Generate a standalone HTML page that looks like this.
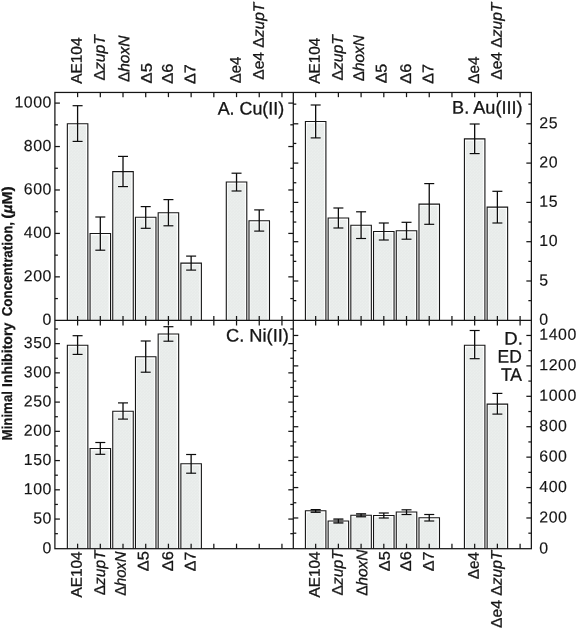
<!DOCTYPE html>
<html><head><meta charset="utf-8"><title>Minimal Inhibitory Concentration</title>
<style>
html,body{margin:0;padding:0;background:#fff;}
svg{display:block;}
text{font-family:"Liberation Sans",sans-serif;fill:#151515;stroke:#151515;stroke-width:0.3px;text-rendering:geometricPrecision;}
.tl{font-size:15.9px;letter-spacing:0.55px;stroke-width:0.15px;}
.pl{font-size:18px;stroke-width:0.3px;}
.cl{font-size:15.5px;}
.yt{font-size:14.3px;font-weight:bold;stroke-width:0.25px;}
.it{font-style:italic;}
</style></head>
<body>
<svg width="577" height="629" viewBox="0 0 577 629">
<defs><pattern id="stip" width="3" height="3" patternUnits="userSpaceOnUse"><rect width="3" height="3" fill="#e7ebe9"/><circle cx="0.75" cy="0.75" r="0.75" fill="#edf0ef"/><circle cx="2.25" cy="2.25" r="0.75" fill="#edf0ef"/></pattern></defs>
<rect x="0" y="0" width="577" height="629" fill="#ffffff"/>
<path d="M67.35 320.30V123.70H87.85V320.30" fill="#fcfdfd" stroke="none"/>
<path d="M68.75 320.30V125.70H85.90V320.30Z" fill="url(#stip)" stroke="none"/>
<line x1="77.60" y1="125.70" x2="77.60" y2="141.40" stroke="#f5f7f6" stroke-width="3.2"/>
<line x1="72.10" y1="141.40" x2="83.10" y2="141.40" stroke="#f1f4f3" stroke-width="2.6"/>
<path d="M67.35 320.30V123.70H87.85V320.30" fill="none" stroke="#151515" stroke-width="1.1"/>
<line x1="77.60" y1="105.70" x2="77.60" y2="141.40" stroke="#0c0c0c" stroke-width="1.3"/>
<line x1="72.60" y1="105.70" x2="82.60" y2="105.70" stroke="#0c0c0c" stroke-width="1.2"/>
<line x1="72.60" y1="141.40" x2="82.60" y2="141.40" stroke="#0c0c0c" stroke-width="1.2"/>
<path d="M90.06 320.30V233.50H110.56V320.30" fill="#fcfdfd" stroke="none"/>
<path d="M91.46 320.30V235.50H108.61V320.30Z" fill="url(#stip)" stroke="none"/>
<line x1="100.31" y1="235.50" x2="100.31" y2="250.20" stroke="#f5f7f6" stroke-width="3.2"/>
<line x1="94.81" y1="250.20" x2="105.81" y2="250.20" stroke="#f1f4f3" stroke-width="2.6"/>
<path d="M90.06 320.30V233.50H110.56V320.30" fill="none" stroke="#151515" stroke-width="1.1"/>
<line x1="100.31" y1="217.00" x2="100.31" y2="250.20" stroke="#0c0c0c" stroke-width="1.3"/>
<line x1="95.31" y1="217.00" x2="105.31" y2="217.00" stroke="#0c0c0c" stroke-width="1.2"/>
<line x1="95.31" y1="250.20" x2="105.31" y2="250.20" stroke="#0c0c0c" stroke-width="1.2"/>
<path d="M112.76 320.30V171.60H133.26V320.30" fill="#fcfdfd" stroke="none"/>
<path d="M114.16 320.30V173.60H131.31V320.30Z" fill="url(#stip)" stroke="none"/>
<line x1="123.01" y1="173.60" x2="123.01" y2="186.60" stroke="#f5f7f6" stroke-width="3.2"/>
<line x1="117.51" y1="186.60" x2="128.51" y2="186.60" stroke="#f1f4f3" stroke-width="2.6"/>
<path d="M112.76 320.30V171.60H133.26V320.30" fill="none" stroke="#151515" stroke-width="1.1"/>
<line x1="123.01" y1="156.40" x2="123.01" y2="186.60" stroke="#0c0c0c" stroke-width="1.3"/>
<line x1="118.01" y1="156.40" x2="128.01" y2="156.40" stroke="#0c0c0c" stroke-width="1.2"/>
<line x1="118.01" y1="186.60" x2="128.01" y2="186.60" stroke="#0c0c0c" stroke-width="1.2"/>
<path d="M135.47 320.30V217.30H155.97V320.30" fill="#fcfdfd" stroke="none"/>
<path d="M136.87 320.30V219.30H154.02V320.30Z" fill="url(#stip)" stroke="none"/>
<line x1="145.72" y1="219.30" x2="145.72" y2="228.30" stroke="#f5f7f6" stroke-width="3.2"/>
<line x1="140.22" y1="228.30" x2="151.22" y2="228.30" stroke="#f1f4f3" stroke-width="2.6"/>
<path d="M135.47 320.30V217.30H155.97V320.30" fill="none" stroke="#151515" stroke-width="1.1"/>
<line x1="145.72" y1="206.60" x2="145.72" y2="228.30" stroke="#0c0c0c" stroke-width="1.3"/>
<line x1="140.72" y1="206.60" x2="150.72" y2="206.60" stroke="#0c0c0c" stroke-width="1.2"/>
<line x1="140.72" y1="228.30" x2="150.72" y2="228.30" stroke="#0c0c0c" stroke-width="1.2"/>
<path d="M158.17 320.30V212.70H178.67V320.30" fill="#fcfdfd" stroke="none"/>
<path d="M159.57 320.30V214.70H176.72V320.30Z" fill="url(#stip)" stroke="none"/>
<line x1="168.42" y1="214.70" x2="168.42" y2="225.80" stroke="#f5f7f6" stroke-width="3.2"/>
<line x1="162.92" y1="225.80" x2="173.92" y2="225.80" stroke="#f1f4f3" stroke-width="2.6"/>
<path d="M158.17 320.30V212.70H178.67V320.30" fill="none" stroke="#151515" stroke-width="1.1"/>
<line x1="168.42" y1="199.60" x2="168.42" y2="225.80" stroke="#0c0c0c" stroke-width="1.3"/>
<line x1="163.42" y1="199.60" x2="173.42" y2="199.60" stroke="#0c0c0c" stroke-width="1.2"/>
<line x1="163.42" y1="225.80" x2="173.42" y2="225.80" stroke="#0c0c0c" stroke-width="1.2"/>
<path d="M180.88 320.30V263.10H201.38V320.30" fill="#fcfdfd" stroke="none"/>
<path d="M182.28 320.30V265.10H199.43V320.30Z" fill="url(#stip)" stroke="none"/>
<line x1="191.13" y1="265.10" x2="191.13" y2="270.10" stroke="#f5f7f6" stroke-width="3.2"/>
<line x1="185.63" y1="270.10" x2="196.63" y2="270.10" stroke="#f1f4f3" stroke-width="2.6"/>
<path d="M180.88 320.30V263.10H201.38V320.30" fill="none" stroke="#151515" stroke-width="1.1"/>
<line x1="191.13" y1="256.10" x2="191.13" y2="270.10" stroke="#0c0c0c" stroke-width="1.3"/>
<line x1="186.13" y1="256.10" x2="196.13" y2="256.10" stroke="#0c0c0c" stroke-width="1.2"/>
<line x1="186.13" y1="270.10" x2="196.13" y2="270.10" stroke="#0c0c0c" stroke-width="1.2"/>
<path d="M226.29 320.30V182.00H246.79V320.30" fill="#fcfdfd" stroke="none"/>
<path d="M227.69 320.30V184.00H244.84V320.30Z" fill="url(#stip)" stroke="none"/>
<line x1="236.54" y1="184.00" x2="236.54" y2="191.00" stroke="#f5f7f6" stroke-width="3.2"/>
<line x1="231.04" y1="191.00" x2="242.04" y2="191.00" stroke="#f1f4f3" stroke-width="2.6"/>
<path d="M226.29 320.30V182.00H246.79V320.30" fill="none" stroke="#151515" stroke-width="1.1"/>
<line x1="236.54" y1="173.20" x2="236.54" y2="191.00" stroke="#0c0c0c" stroke-width="1.3"/>
<line x1="231.54" y1="173.20" x2="241.54" y2="173.20" stroke="#0c0c0c" stroke-width="1.2"/>
<line x1="231.54" y1="191.00" x2="241.54" y2="191.00" stroke="#0c0c0c" stroke-width="1.2"/>
<path d="M248.99 320.30V220.70H269.49V320.30" fill="#fcfdfd" stroke="none"/>
<path d="M250.39 320.30V222.70H267.54V320.30Z" fill="url(#stip)" stroke="none"/>
<line x1="259.24" y1="222.70" x2="259.24" y2="231.10" stroke="#f5f7f6" stroke-width="3.2"/>
<line x1="253.74" y1="231.10" x2="264.74" y2="231.10" stroke="#f1f4f3" stroke-width="2.6"/>
<path d="M248.99 320.30V220.70H269.49V320.30" fill="none" stroke="#151515" stroke-width="1.1"/>
<line x1="259.24" y1="209.90" x2="259.24" y2="231.10" stroke="#0c0c0c" stroke-width="1.3"/>
<line x1="254.24" y1="209.90" x2="264.24" y2="209.90" stroke="#0c0c0c" stroke-width="1.2"/>
<line x1="254.24" y1="231.10" x2="264.24" y2="231.10" stroke="#0c0c0c" stroke-width="1.2"/>
<path d="M305.41 320.30V121.50H325.91V320.30" fill="#fcfdfd" stroke="none"/>
<path d="M306.81 320.30V123.50H323.96V320.30Z" fill="url(#stip)" stroke="none"/>
<line x1="315.66" y1="123.50" x2="315.66" y2="137.90" stroke="#f5f7f6" stroke-width="3.2"/>
<line x1="310.16" y1="137.90" x2="321.16" y2="137.90" stroke="#f1f4f3" stroke-width="2.6"/>
<path d="M305.41 320.30V121.50H325.91V320.30" fill="none" stroke="#151515" stroke-width="1.1"/>
<line x1="315.66" y1="105.00" x2="315.66" y2="137.90" stroke="#0c0c0c" stroke-width="1.3"/>
<line x1="310.66" y1="105.00" x2="320.66" y2="105.00" stroke="#0c0c0c" stroke-width="1.2"/>
<line x1="310.66" y1="137.90" x2="320.66" y2="137.90" stroke="#0c0c0c" stroke-width="1.2"/>
<path d="M328.13 320.30V218.00H348.63V320.30" fill="#fcfdfd" stroke="none"/>
<path d="M329.53 320.30V220.00H346.68V320.30Z" fill="url(#stip)" stroke="none"/>
<line x1="338.38" y1="220.00" x2="338.38" y2="228.00" stroke="#f5f7f6" stroke-width="3.2"/>
<line x1="332.88" y1="228.00" x2="343.88" y2="228.00" stroke="#f1f4f3" stroke-width="2.6"/>
<path d="M328.13 320.30V218.00H348.63V320.30" fill="none" stroke="#151515" stroke-width="1.1"/>
<line x1="338.38" y1="208.00" x2="338.38" y2="228.00" stroke="#0c0c0c" stroke-width="1.3"/>
<line x1="333.38" y1="208.00" x2="343.38" y2="208.00" stroke="#0c0c0c" stroke-width="1.2"/>
<line x1="333.38" y1="228.00" x2="343.38" y2="228.00" stroke="#0c0c0c" stroke-width="1.2"/>
<path d="M350.84 320.30V225.30H371.34V320.30" fill="#fcfdfd" stroke="none"/>
<path d="M352.24 320.30V227.30H369.39V320.30Z" fill="url(#stip)" stroke="none"/>
<line x1="361.09" y1="227.30" x2="361.09" y2="238.50" stroke="#f5f7f6" stroke-width="3.2"/>
<line x1="355.59" y1="238.50" x2="366.59" y2="238.50" stroke="#f1f4f3" stroke-width="2.6"/>
<path d="M350.84 320.30V225.30H371.34V320.30" fill="none" stroke="#151515" stroke-width="1.1"/>
<line x1="361.09" y1="211.80" x2="361.09" y2="238.50" stroke="#0c0c0c" stroke-width="1.3"/>
<line x1="356.09" y1="211.80" x2="366.09" y2="211.80" stroke="#0c0c0c" stroke-width="1.2"/>
<line x1="356.09" y1="238.50" x2="366.09" y2="238.50" stroke="#0c0c0c" stroke-width="1.2"/>
<path d="M373.56 320.30V231.50H394.06V320.30" fill="#fcfdfd" stroke="none"/>
<path d="M374.96 320.30V233.50H392.11V320.30Z" fill="url(#stip)" stroke="none"/>
<line x1="383.81" y1="233.50" x2="383.81" y2="240.00" stroke="#f5f7f6" stroke-width="3.2"/>
<line x1="378.31" y1="240.00" x2="389.31" y2="240.00" stroke="#f1f4f3" stroke-width="2.6"/>
<path d="M373.56 320.30V231.50H394.06V320.30" fill="none" stroke="#151515" stroke-width="1.1"/>
<line x1="383.81" y1="223.00" x2="383.81" y2="240.00" stroke="#0c0c0c" stroke-width="1.3"/>
<line x1="378.81" y1="223.00" x2="388.81" y2="223.00" stroke="#0c0c0c" stroke-width="1.2"/>
<line x1="378.81" y1="240.00" x2="388.81" y2="240.00" stroke="#0c0c0c" stroke-width="1.2"/>
<path d="M396.27 320.30V230.80H416.77V320.30" fill="#fcfdfd" stroke="none"/>
<path d="M397.67 320.30V232.80H414.82V320.30Z" fill="url(#stip)" stroke="none"/>
<line x1="406.52" y1="232.80" x2="406.52" y2="239.20" stroke="#f5f7f6" stroke-width="3.2"/>
<line x1="401.02" y1="239.20" x2="412.02" y2="239.20" stroke="#f1f4f3" stroke-width="2.6"/>
<path d="M396.27 320.30V230.80H416.77V320.30" fill="none" stroke="#151515" stroke-width="1.1"/>
<line x1="406.52" y1="222.30" x2="406.52" y2="239.20" stroke="#0c0c0c" stroke-width="1.3"/>
<line x1="401.52" y1="222.30" x2="411.52" y2="222.30" stroke="#0c0c0c" stroke-width="1.2"/>
<line x1="401.52" y1="239.20" x2="411.52" y2="239.20" stroke="#0c0c0c" stroke-width="1.2"/>
<path d="M418.99 320.30V204.10H439.49V320.30" fill="#fcfdfd" stroke="none"/>
<path d="M420.39 320.30V206.10H437.54V320.30Z" fill="url(#stip)" stroke="none"/>
<line x1="429.24" y1="206.10" x2="429.24" y2="224.30" stroke="#f5f7f6" stroke-width="3.2"/>
<line x1="423.74" y1="224.30" x2="434.74" y2="224.30" stroke="#f1f4f3" stroke-width="2.6"/>
<path d="M418.99 320.30V204.10H439.49V320.30" fill="none" stroke="#151515" stroke-width="1.1"/>
<line x1="429.24" y1="183.60" x2="429.24" y2="224.30" stroke="#0c0c0c" stroke-width="1.3"/>
<line x1="424.24" y1="183.60" x2="434.24" y2="183.60" stroke="#0c0c0c" stroke-width="1.2"/>
<line x1="424.24" y1="224.30" x2="434.24" y2="224.30" stroke="#0c0c0c" stroke-width="1.2"/>
<path d="M464.42 320.30V138.90H484.92V320.30" fill="#fcfdfd" stroke="none"/>
<path d="M465.82 320.30V140.90H482.97V320.30Z" fill="url(#stip)" stroke="none"/>
<line x1="474.67" y1="140.90" x2="474.67" y2="153.60" stroke="#f5f7f6" stroke-width="3.2"/>
<line x1="469.17" y1="153.60" x2="480.17" y2="153.60" stroke="#f1f4f3" stroke-width="2.6"/>
<path d="M464.42 320.30V138.90H484.92V320.30" fill="none" stroke="#151515" stroke-width="1.1"/>
<line x1="474.67" y1="124.00" x2="474.67" y2="153.60" stroke="#0c0c0c" stroke-width="1.3"/>
<line x1="469.67" y1="124.00" x2="479.67" y2="124.00" stroke="#0c0c0c" stroke-width="1.2"/>
<line x1="469.67" y1="153.60" x2="479.67" y2="153.60" stroke="#0c0c0c" stroke-width="1.2"/>
<path d="M487.13 320.30V207.10H507.63V320.30" fill="#fcfdfd" stroke="none"/>
<path d="M488.53 320.30V209.10H505.69V320.30Z" fill="url(#stip)" stroke="none"/>
<line x1="497.38" y1="209.10" x2="497.38" y2="223.00" stroke="#f5f7f6" stroke-width="3.2"/>
<line x1="491.88" y1="223.00" x2="502.88" y2="223.00" stroke="#f1f4f3" stroke-width="2.6"/>
<path d="M487.13 320.30V207.10H507.63V320.30" fill="none" stroke="#151515" stroke-width="1.1"/>
<line x1="497.38" y1="191.30" x2="497.38" y2="223.00" stroke="#0c0c0c" stroke-width="1.3"/>
<line x1="492.38" y1="191.30" x2="502.38" y2="191.30" stroke="#0c0c0c" stroke-width="1.2"/>
<line x1="492.38" y1="223.00" x2="502.38" y2="223.00" stroke="#0c0c0c" stroke-width="1.2"/>
<path d="M67.35 548.70V345.20H87.85V548.70" fill="#fcfdfd" stroke="none"/>
<path d="M68.75 548.70V347.20H85.90V548.70Z" fill="url(#stip)" stroke="none"/>
<line x1="77.60" y1="347.20" x2="77.60" y2="354.40" stroke="#f5f7f6" stroke-width="3.2"/>
<line x1="72.10" y1="354.40" x2="83.10" y2="354.40" stroke="#f1f4f3" stroke-width="2.6"/>
<path d="M67.35 548.70V345.20H87.85V548.70" fill="none" stroke="#151515" stroke-width="1.1"/>
<line x1="77.60" y1="335.70" x2="77.60" y2="354.40" stroke="#0c0c0c" stroke-width="1.3"/>
<line x1="72.60" y1="335.70" x2="82.60" y2="335.70" stroke="#0c0c0c" stroke-width="1.2"/>
<line x1="72.60" y1="354.40" x2="82.60" y2="354.40" stroke="#0c0c0c" stroke-width="1.2"/>
<path d="M90.06 548.70V448.50H110.56V548.70" fill="#fcfdfd" stroke="none"/>
<path d="M91.46 548.70V450.50H108.61V548.70Z" fill="url(#stip)" stroke="none"/>
<line x1="100.31" y1="450.50" x2="100.31" y2="454.30" stroke="#f5f7f6" stroke-width="3.2"/>
<line x1="94.81" y1="454.30" x2="105.81" y2="454.30" stroke="#f1f4f3" stroke-width="2.6"/>
<path d="M90.06 548.70V448.50H110.56V548.70" fill="none" stroke="#151515" stroke-width="1.1"/>
<line x1="100.31" y1="442.50" x2="100.31" y2="454.30" stroke="#0c0c0c" stroke-width="1.3"/>
<line x1="95.31" y1="442.50" x2="105.31" y2="442.50" stroke="#0c0c0c" stroke-width="1.2"/>
<line x1="95.31" y1="454.30" x2="105.31" y2="454.30" stroke="#0c0c0c" stroke-width="1.2"/>
<path d="M112.76 548.70V411.30H133.26V548.70" fill="#fcfdfd" stroke="none"/>
<path d="M114.16 548.70V413.30H131.31V548.70Z" fill="url(#stip)" stroke="none"/>
<line x1="123.01" y1="413.30" x2="123.01" y2="419.10" stroke="#f5f7f6" stroke-width="3.2"/>
<line x1="117.51" y1="419.10" x2="128.51" y2="419.10" stroke="#f1f4f3" stroke-width="2.6"/>
<path d="M112.76 548.70V411.30H133.26V548.70" fill="none" stroke="#151515" stroke-width="1.1"/>
<line x1="123.01" y1="402.90" x2="123.01" y2="419.10" stroke="#0c0c0c" stroke-width="1.3"/>
<line x1="118.01" y1="402.90" x2="128.01" y2="402.90" stroke="#0c0c0c" stroke-width="1.2"/>
<line x1="118.01" y1="419.10" x2="128.01" y2="419.10" stroke="#0c0c0c" stroke-width="1.2"/>
<path d="M135.47 548.70V356.70H155.97V548.70" fill="#fcfdfd" stroke="none"/>
<path d="M136.87 548.70V358.70H154.02V548.70Z" fill="url(#stip)" stroke="none"/>
<line x1="145.72" y1="358.70" x2="145.72" y2="372.20" stroke="#f5f7f6" stroke-width="3.2"/>
<line x1="140.22" y1="372.20" x2="151.22" y2="372.20" stroke="#f1f4f3" stroke-width="2.6"/>
<path d="M135.47 548.70V356.70H155.97V548.70" fill="none" stroke="#151515" stroke-width="1.1"/>
<line x1="145.72" y1="341.00" x2="145.72" y2="372.20" stroke="#0c0c0c" stroke-width="1.3"/>
<line x1="140.72" y1="341.00" x2="150.72" y2="341.00" stroke="#0c0c0c" stroke-width="1.2"/>
<line x1="140.72" y1="372.20" x2="150.72" y2="372.20" stroke="#0c0c0c" stroke-width="1.2"/>
<path d="M158.17 548.70V334.00H178.67V548.70" fill="#fcfdfd" stroke="none"/>
<path d="M159.57 548.70V336.00H176.72V548.70Z" fill="url(#stip)" stroke="none"/>
<line x1="168.42" y1="336.00" x2="168.42" y2="341.20" stroke="#f5f7f6" stroke-width="3.2"/>
<line x1="162.92" y1="341.20" x2="173.92" y2="341.20" stroke="#f1f4f3" stroke-width="2.6"/>
<path d="M158.17 548.70V334.00H178.67V548.70" fill="none" stroke="#151515" stroke-width="1.1"/>
<line x1="168.42" y1="326.70" x2="168.42" y2="341.20" stroke="#0c0c0c" stroke-width="1.3"/>
<line x1="163.42" y1="326.70" x2="173.42" y2="326.70" stroke="#0c0c0c" stroke-width="1.2"/>
<line x1="163.42" y1="341.20" x2="173.42" y2="341.20" stroke="#0c0c0c" stroke-width="1.2"/>
<path d="M180.88 548.70V463.70H201.38V548.70" fill="#fcfdfd" stroke="none"/>
<path d="M182.28 548.70V465.70H199.43V548.70Z" fill="url(#stip)" stroke="none"/>
<line x1="191.13" y1="465.70" x2="191.13" y2="473.20" stroke="#f5f7f6" stroke-width="3.2"/>
<line x1="185.63" y1="473.20" x2="196.63" y2="473.20" stroke="#f1f4f3" stroke-width="2.6"/>
<path d="M180.88 548.70V463.70H201.38V548.70" fill="none" stroke="#151515" stroke-width="1.1"/>
<line x1="191.13" y1="454.50" x2="191.13" y2="473.20" stroke="#0c0c0c" stroke-width="1.3"/>
<line x1="186.13" y1="454.50" x2="196.13" y2="454.50" stroke="#0c0c0c" stroke-width="1.2"/>
<line x1="186.13" y1="473.20" x2="196.13" y2="473.20" stroke="#0c0c0c" stroke-width="1.2"/>
<path d="M305.41 548.70V510.80H325.91V548.70" fill="#fcfdfd" stroke="none"/>
<path d="M306.81 548.70V512.80H323.96V548.70Z" fill="url(#stip)" stroke="none"/>
<path d="M305.41 548.70V510.80H325.91V548.70" fill="none" stroke="#151515" stroke-width="1.1"/>
<rect x="310.66" y="509.60" width="10.00" height="2.70" fill="#4a4a4a" fill-opacity="0.55"/>
<line x1="315.66" y1="509.60" x2="315.66" y2="512.30" stroke="#0c0c0c" stroke-width="1.3"/>
<line x1="310.66" y1="509.60" x2="320.66" y2="509.60" stroke="#0c0c0c" stroke-width="1.2"/>
<line x1="310.66" y1="512.30" x2="320.66" y2="512.30" stroke="#0c0c0c" stroke-width="1.2"/>
<path d="M328.13 548.70V521.00H348.63V548.70" fill="#fcfdfd" stroke="none"/>
<path d="M329.53 548.70V523.00H346.68V548.70Z" fill="url(#stip)" stroke="none"/>
<path d="M328.13 548.70V521.00H348.63V548.70" fill="none" stroke="#151515" stroke-width="1.1"/>
<rect x="333.38" y="519.00" width="10.00" height="4.00" fill="#4a4a4a" fill-opacity="0.55"/>
<line x1="338.38" y1="519.00" x2="338.38" y2="523.00" stroke="#0c0c0c" stroke-width="1.3"/>
<line x1="333.38" y1="519.00" x2="343.38" y2="519.00" stroke="#0c0c0c" stroke-width="1.2"/>
<line x1="333.38" y1="523.00" x2="343.38" y2="523.00" stroke="#0c0c0c" stroke-width="1.2"/>
<path d="M350.84 548.70V515.30H371.34V548.70" fill="#fcfdfd" stroke="none"/>
<path d="M352.24 548.70V517.30H369.39V548.70Z" fill="url(#stip)" stroke="none"/>
<path d="M350.84 548.70V515.30H371.34V548.70" fill="none" stroke="#151515" stroke-width="1.1"/>
<rect x="356.09" y="513.80" width="10.00" height="3.00" fill="#4a4a4a" fill-opacity="0.55"/>
<line x1="361.09" y1="513.80" x2="361.09" y2="516.80" stroke="#0c0c0c" stroke-width="1.3"/>
<line x1="356.09" y1="513.80" x2="366.09" y2="513.80" stroke="#0c0c0c" stroke-width="1.2"/>
<line x1="356.09" y1="516.80" x2="366.09" y2="516.80" stroke="#0c0c0c" stroke-width="1.2"/>
<path d="M373.56 548.70V515.50H394.06V548.70" fill="#fcfdfd" stroke="none"/>
<path d="M374.96 548.70V517.50H392.11V548.70Z" fill="url(#stip)" stroke="none"/>
<path d="M373.56 548.70V515.50H394.06V548.70" fill="none" stroke="#151515" stroke-width="1.1"/>
<line x1="383.81" y1="513.00" x2="383.81" y2="518.00" stroke="#0c0c0c" stroke-width="1.3"/>
<line x1="378.81" y1="513.00" x2="388.81" y2="513.00" stroke="#0c0c0c" stroke-width="1.2"/>
<line x1="378.81" y1="518.00" x2="388.81" y2="518.00" stroke="#0c0c0c" stroke-width="1.2"/>
<path d="M396.27 548.70V512.00H416.77V548.70" fill="#fcfdfd" stroke="none"/>
<path d="M397.67 548.70V514.00H414.82V548.70Z" fill="url(#stip)" stroke="none"/>
<path d="M396.27 548.70V512.00H416.77V548.70" fill="none" stroke="#151515" stroke-width="1.1"/>
<line x1="406.52" y1="509.80" x2="406.52" y2="514.50" stroke="#0c0c0c" stroke-width="1.3"/>
<line x1="401.52" y1="509.80" x2="411.52" y2="509.80" stroke="#0c0c0c" stroke-width="1.2"/>
<line x1="401.52" y1="514.50" x2="411.52" y2="514.50" stroke="#0c0c0c" stroke-width="1.2"/>
<path d="M418.99 548.70V517.80H439.49V548.70" fill="#fcfdfd" stroke="none"/>
<path d="M420.39 548.70V519.80H437.54V548.70Z" fill="url(#stip)" stroke="none"/>
<line x1="429.24" y1="519.80" x2="429.24" y2="521.00" stroke="#f5f7f6" stroke-width="3.2"/>
<line x1="423.74" y1="521.00" x2="434.74" y2="521.00" stroke="#f1f4f3" stroke-width="2.6"/>
<path d="M418.99 548.70V517.80H439.49V548.70" fill="none" stroke="#151515" stroke-width="1.1"/>
<line x1="429.24" y1="514.50" x2="429.24" y2="521.00" stroke="#0c0c0c" stroke-width="1.3"/>
<line x1="424.24" y1="514.50" x2="434.24" y2="514.50" stroke="#0c0c0c" stroke-width="1.2"/>
<line x1="424.24" y1="521.00" x2="434.24" y2="521.00" stroke="#0c0c0c" stroke-width="1.2"/>
<path d="M464.42 548.70V345.20H484.92V548.70" fill="#fcfdfd" stroke="none"/>
<path d="M465.82 548.70V347.20H482.97V548.70Z" fill="url(#stip)" stroke="none"/>
<line x1="474.67" y1="347.20" x2="474.67" y2="358.70" stroke="#f5f7f6" stroke-width="3.2"/>
<line x1="469.17" y1="358.70" x2="480.17" y2="358.70" stroke="#f1f4f3" stroke-width="2.6"/>
<path d="M464.42 548.70V345.20H484.92V548.70" fill="none" stroke="#151515" stroke-width="1.1"/>
<line x1="474.67" y1="330.50" x2="474.67" y2="358.70" stroke="#0c0c0c" stroke-width="1.3"/>
<line x1="469.67" y1="330.50" x2="479.67" y2="330.50" stroke="#0c0c0c" stroke-width="1.2"/>
<line x1="469.67" y1="358.70" x2="479.67" y2="358.70" stroke="#0c0c0c" stroke-width="1.2"/>
<path d="M487.13 548.70V404.10H507.63V548.70" fill="#fcfdfd" stroke="none"/>
<path d="M488.53 548.70V406.10H505.69V548.70Z" fill="url(#stip)" stroke="none"/>
<line x1="497.38" y1="406.10" x2="497.38" y2="414.10" stroke="#f5f7f6" stroke-width="3.2"/>
<line x1="491.88" y1="414.10" x2="502.88" y2="414.10" stroke="#f1f4f3" stroke-width="2.6"/>
<path d="M487.13 548.70V404.10H507.63V548.70" fill="none" stroke="#151515" stroke-width="1.1"/>
<line x1="497.38" y1="393.40" x2="497.38" y2="414.10" stroke="#0c0c0c" stroke-width="1.3"/>
<line x1="492.38" y1="393.40" x2="502.38" y2="393.40" stroke="#0c0c0c" stroke-width="1.2"/>
<line x1="492.38" y1="414.10" x2="502.38" y2="414.10" stroke="#0c0c0c" stroke-width="1.2"/>
<rect x="54.9" y="92.45" width="476.45000000000005" height="456.25000000000006" fill="none" stroke="#151515" stroke-width="1.25"/>
<line x1="293.30" y1="92.45" x2="293.30" y2="548.70" stroke="#151515" stroke-width="1.25"/>
<line x1="54.90" y1="320.30" x2="531.35" y2="320.30" stroke="#151515" stroke-width="1.25"/>
<line x1="77.60" y1="92.45" x2="77.60" y2="97.15" stroke="#151515" stroke-width="1.25"/>
<line x1="77.60" y1="316.00" x2="77.60" y2="325.50" stroke="#151515" stroke-width="1.25"/>
<line x1="77.60" y1="543.70" x2="77.60" y2="548.70" stroke="#151515" stroke-width="1.25"/>
<line x1="100.31" y1="92.45" x2="100.31" y2="97.15" stroke="#151515" stroke-width="1.25"/>
<line x1="100.31" y1="316.00" x2="100.31" y2="325.50" stroke="#151515" stroke-width="1.25"/>
<line x1="100.31" y1="543.70" x2="100.31" y2="548.70" stroke="#151515" stroke-width="1.25"/>
<line x1="123.01" y1="92.45" x2="123.01" y2="97.15" stroke="#151515" stroke-width="1.25"/>
<line x1="123.01" y1="316.00" x2="123.01" y2="325.50" stroke="#151515" stroke-width="1.25"/>
<line x1="123.01" y1="543.70" x2="123.01" y2="548.70" stroke="#151515" stroke-width="1.25"/>
<line x1="145.72" y1="92.45" x2="145.72" y2="97.15" stroke="#151515" stroke-width="1.25"/>
<line x1="145.72" y1="316.00" x2="145.72" y2="325.50" stroke="#151515" stroke-width="1.25"/>
<line x1="145.72" y1="543.70" x2="145.72" y2="548.70" stroke="#151515" stroke-width="1.25"/>
<line x1="168.42" y1="92.45" x2="168.42" y2="97.15" stroke="#151515" stroke-width="1.25"/>
<line x1="168.42" y1="316.00" x2="168.42" y2="325.50" stroke="#151515" stroke-width="1.25"/>
<line x1="168.42" y1="543.70" x2="168.42" y2="548.70" stroke="#151515" stroke-width="1.25"/>
<line x1="191.13" y1="92.45" x2="191.13" y2="97.15" stroke="#151515" stroke-width="1.25"/>
<line x1="191.13" y1="316.00" x2="191.13" y2="325.50" stroke="#151515" stroke-width="1.25"/>
<line x1="191.13" y1="543.70" x2="191.13" y2="548.70" stroke="#151515" stroke-width="1.25"/>
<line x1="213.83" y1="92.45" x2="213.83" y2="97.15" stroke="#151515" stroke-width="1.25"/>
<line x1="213.83" y1="316.00" x2="213.83" y2="325.50" stroke="#151515" stroke-width="1.25"/>
<line x1="213.83" y1="543.70" x2="213.83" y2="548.70" stroke="#151515" stroke-width="1.25"/>
<line x1="236.54" y1="92.45" x2="236.54" y2="97.15" stroke="#151515" stroke-width="1.25"/>
<line x1="236.54" y1="316.00" x2="236.54" y2="325.50" stroke="#151515" stroke-width="1.25"/>
<line x1="236.54" y1="543.70" x2="236.54" y2="548.70" stroke="#151515" stroke-width="1.25"/>
<line x1="259.24" y1="92.45" x2="259.24" y2="97.15" stroke="#151515" stroke-width="1.25"/>
<line x1="259.24" y1="316.00" x2="259.24" y2="325.50" stroke="#151515" stroke-width="1.25"/>
<line x1="259.24" y1="543.70" x2="259.24" y2="548.70" stroke="#151515" stroke-width="1.25"/>
<line x1="281.95" y1="92.45" x2="281.95" y2="97.15" stroke="#151515" stroke-width="1.25"/>
<line x1="281.95" y1="316.00" x2="281.95" y2="325.50" stroke="#151515" stroke-width="1.25"/>
<line x1="281.95" y1="543.70" x2="281.95" y2="548.70" stroke="#151515" stroke-width="1.25"/>
<line x1="315.66" y1="92.45" x2="315.66" y2="97.15" stroke="#151515" stroke-width="1.25"/>
<line x1="315.66" y1="316.00" x2="315.66" y2="325.50" stroke="#151515" stroke-width="1.25"/>
<line x1="315.66" y1="543.70" x2="315.66" y2="548.70" stroke="#151515" stroke-width="1.25"/>
<line x1="338.38" y1="92.45" x2="338.38" y2="97.15" stroke="#151515" stroke-width="1.25"/>
<line x1="338.38" y1="316.00" x2="338.38" y2="325.50" stroke="#151515" stroke-width="1.25"/>
<line x1="338.38" y1="543.70" x2="338.38" y2="548.70" stroke="#151515" stroke-width="1.25"/>
<line x1="361.09" y1="92.45" x2="361.09" y2="97.15" stroke="#151515" stroke-width="1.25"/>
<line x1="361.09" y1="316.00" x2="361.09" y2="325.50" stroke="#151515" stroke-width="1.25"/>
<line x1="361.09" y1="543.70" x2="361.09" y2="548.70" stroke="#151515" stroke-width="1.25"/>
<line x1="383.81" y1="92.45" x2="383.81" y2="97.15" stroke="#151515" stroke-width="1.25"/>
<line x1="383.81" y1="316.00" x2="383.81" y2="325.50" stroke="#151515" stroke-width="1.25"/>
<line x1="383.81" y1="543.70" x2="383.81" y2="548.70" stroke="#151515" stroke-width="1.25"/>
<line x1="406.52" y1="92.45" x2="406.52" y2="97.15" stroke="#151515" stroke-width="1.25"/>
<line x1="406.52" y1="316.00" x2="406.52" y2="325.50" stroke="#151515" stroke-width="1.25"/>
<line x1="406.52" y1="543.70" x2="406.52" y2="548.70" stroke="#151515" stroke-width="1.25"/>
<line x1="429.24" y1="92.45" x2="429.24" y2="97.15" stroke="#151515" stroke-width="1.25"/>
<line x1="429.24" y1="316.00" x2="429.24" y2="325.50" stroke="#151515" stroke-width="1.25"/>
<line x1="429.24" y1="543.70" x2="429.24" y2="548.70" stroke="#151515" stroke-width="1.25"/>
<line x1="451.95" y1="92.45" x2="451.95" y2="97.15" stroke="#151515" stroke-width="1.25"/>
<line x1="451.95" y1="316.00" x2="451.95" y2="325.50" stroke="#151515" stroke-width="1.25"/>
<line x1="451.95" y1="543.70" x2="451.95" y2="548.70" stroke="#151515" stroke-width="1.25"/>
<line x1="474.67" y1="92.45" x2="474.67" y2="97.15" stroke="#151515" stroke-width="1.25"/>
<line x1="474.67" y1="316.00" x2="474.67" y2="325.50" stroke="#151515" stroke-width="1.25"/>
<line x1="474.67" y1="543.70" x2="474.67" y2="548.70" stroke="#151515" stroke-width="1.25"/>
<line x1="497.38" y1="92.45" x2="497.38" y2="97.15" stroke="#151515" stroke-width="1.25"/>
<line x1="497.38" y1="316.00" x2="497.38" y2="325.50" stroke="#151515" stroke-width="1.25"/>
<line x1="497.38" y1="543.70" x2="497.38" y2="548.70" stroke="#151515" stroke-width="1.25"/>
<line x1="520.10" y1="92.45" x2="520.10" y2="97.15" stroke="#151515" stroke-width="1.25"/>
<line x1="520.10" y1="316.00" x2="520.10" y2="325.50" stroke="#151515" stroke-width="1.25"/>
<line x1="520.10" y1="543.70" x2="520.10" y2="548.70" stroke="#151515" stroke-width="1.25"/>
<line x1="54.90" y1="298.58" x2="57.90" y2="298.58" stroke="#151515" stroke-width="1.25"/>
<line x1="290.30" y1="298.58" x2="293.30" y2="298.58" stroke="#151515" stroke-width="1.25"/>
<line x1="54.90" y1="276.86" x2="59.90" y2="276.86" stroke="#151515" stroke-width="1.25"/>
<line x1="288.30" y1="276.86" x2="293.30" y2="276.86" stroke="#151515" stroke-width="1.25"/>
<line x1="54.90" y1="255.14" x2="57.90" y2="255.14" stroke="#151515" stroke-width="1.25"/>
<line x1="290.30" y1="255.14" x2="293.30" y2="255.14" stroke="#151515" stroke-width="1.25"/>
<line x1="54.90" y1="233.42" x2="59.90" y2="233.42" stroke="#151515" stroke-width="1.25"/>
<line x1="288.30" y1="233.42" x2="293.30" y2="233.42" stroke="#151515" stroke-width="1.25"/>
<line x1="54.90" y1="211.70" x2="57.90" y2="211.70" stroke="#151515" stroke-width="1.25"/>
<line x1="290.30" y1="211.70" x2="293.30" y2="211.70" stroke="#151515" stroke-width="1.25"/>
<line x1="54.90" y1="189.98" x2="59.90" y2="189.98" stroke="#151515" stroke-width="1.25"/>
<line x1="288.30" y1="189.98" x2="293.30" y2="189.98" stroke="#151515" stroke-width="1.25"/>
<line x1="54.90" y1="168.26" x2="57.90" y2="168.26" stroke="#151515" stroke-width="1.25"/>
<line x1="290.30" y1="168.26" x2="293.30" y2="168.26" stroke="#151515" stroke-width="1.25"/>
<line x1="54.90" y1="146.54" x2="59.90" y2="146.54" stroke="#151515" stroke-width="1.25"/>
<line x1="288.30" y1="146.54" x2="293.30" y2="146.54" stroke="#151515" stroke-width="1.25"/>
<line x1="54.90" y1="124.82" x2="57.90" y2="124.82" stroke="#151515" stroke-width="1.25"/>
<line x1="290.30" y1="124.82" x2="293.30" y2="124.82" stroke="#151515" stroke-width="1.25"/>
<line x1="54.90" y1="103.10" x2="59.90" y2="103.10" stroke="#151515" stroke-width="1.25"/>
<line x1="288.30" y1="103.10" x2="293.30" y2="103.10" stroke="#151515" stroke-width="1.25"/>
<line x1="293.30" y1="300.65" x2="296.30" y2="300.65" stroke="#151515" stroke-width="1.25"/>
<line x1="528.35" y1="300.65" x2="531.35" y2="300.65" stroke="#151515" stroke-width="1.25"/>
<line x1="293.30" y1="281.00" x2="298.30" y2="281.00" stroke="#151515" stroke-width="1.25"/>
<line x1="526.35" y1="281.00" x2="531.35" y2="281.00" stroke="#151515" stroke-width="1.25"/>
<line x1="293.30" y1="261.35" x2="296.30" y2="261.35" stroke="#151515" stroke-width="1.25"/>
<line x1="528.35" y1="261.35" x2="531.35" y2="261.35" stroke="#151515" stroke-width="1.25"/>
<line x1="293.30" y1="241.70" x2="298.30" y2="241.70" stroke="#151515" stroke-width="1.25"/>
<line x1="526.35" y1="241.70" x2="531.35" y2="241.70" stroke="#151515" stroke-width="1.25"/>
<line x1="293.30" y1="222.05" x2="296.30" y2="222.05" stroke="#151515" stroke-width="1.25"/>
<line x1="528.35" y1="222.05" x2="531.35" y2="222.05" stroke="#151515" stroke-width="1.25"/>
<line x1="293.30" y1="202.40" x2="298.30" y2="202.40" stroke="#151515" stroke-width="1.25"/>
<line x1="526.35" y1="202.40" x2="531.35" y2="202.40" stroke="#151515" stroke-width="1.25"/>
<line x1="293.30" y1="182.75" x2="296.30" y2="182.75" stroke="#151515" stroke-width="1.25"/>
<line x1="528.35" y1="182.75" x2="531.35" y2="182.75" stroke="#151515" stroke-width="1.25"/>
<line x1="293.30" y1="163.10" x2="298.30" y2="163.10" stroke="#151515" stroke-width="1.25"/>
<line x1="526.35" y1="163.10" x2="531.35" y2="163.10" stroke="#151515" stroke-width="1.25"/>
<line x1="293.30" y1="143.45" x2="296.30" y2="143.45" stroke="#151515" stroke-width="1.25"/>
<line x1="528.35" y1="143.45" x2="531.35" y2="143.45" stroke="#151515" stroke-width="1.25"/>
<line x1="293.30" y1="123.80" x2="298.30" y2="123.80" stroke="#151515" stroke-width="1.25"/>
<line x1="526.35" y1="123.80" x2="531.35" y2="123.80" stroke="#151515" stroke-width="1.25"/>
<line x1="293.30" y1="104.15" x2="296.30" y2="104.15" stroke="#151515" stroke-width="1.25"/>
<line x1="528.35" y1="104.15" x2="531.35" y2="104.15" stroke="#151515" stroke-width="1.25"/>
<line x1="54.90" y1="533.68" x2="57.90" y2="533.68" stroke="#151515" stroke-width="1.25"/>
<line x1="290.30" y1="533.68" x2="293.30" y2="533.68" stroke="#151515" stroke-width="1.25"/>
<line x1="54.90" y1="519.06" x2="59.90" y2="519.06" stroke="#151515" stroke-width="1.25"/>
<line x1="288.30" y1="519.06" x2="293.30" y2="519.06" stroke="#151515" stroke-width="1.25"/>
<line x1="54.90" y1="504.44" x2="57.90" y2="504.44" stroke="#151515" stroke-width="1.25"/>
<line x1="290.30" y1="504.44" x2="293.30" y2="504.44" stroke="#151515" stroke-width="1.25"/>
<line x1="54.90" y1="489.82" x2="59.90" y2="489.82" stroke="#151515" stroke-width="1.25"/>
<line x1="288.30" y1="489.82" x2="293.30" y2="489.82" stroke="#151515" stroke-width="1.25"/>
<line x1="54.90" y1="475.20" x2="57.90" y2="475.20" stroke="#151515" stroke-width="1.25"/>
<line x1="290.30" y1="475.20" x2="293.30" y2="475.20" stroke="#151515" stroke-width="1.25"/>
<line x1="54.90" y1="460.58" x2="59.90" y2="460.58" stroke="#151515" stroke-width="1.25"/>
<line x1="288.30" y1="460.58" x2="293.30" y2="460.58" stroke="#151515" stroke-width="1.25"/>
<line x1="54.90" y1="445.96" x2="57.90" y2="445.96" stroke="#151515" stroke-width="1.25"/>
<line x1="290.30" y1="445.96" x2="293.30" y2="445.96" stroke="#151515" stroke-width="1.25"/>
<line x1="54.90" y1="431.34" x2="59.90" y2="431.34" stroke="#151515" stroke-width="1.25"/>
<line x1="288.30" y1="431.34" x2="293.30" y2="431.34" stroke="#151515" stroke-width="1.25"/>
<line x1="54.90" y1="416.72" x2="57.90" y2="416.72" stroke="#151515" stroke-width="1.25"/>
<line x1="290.30" y1="416.72" x2="293.30" y2="416.72" stroke="#151515" stroke-width="1.25"/>
<line x1="54.90" y1="402.10" x2="59.90" y2="402.10" stroke="#151515" stroke-width="1.25"/>
<line x1="288.30" y1="402.10" x2="293.30" y2="402.10" stroke="#151515" stroke-width="1.25"/>
<line x1="54.90" y1="387.48" x2="57.90" y2="387.48" stroke="#151515" stroke-width="1.25"/>
<line x1="290.30" y1="387.48" x2="293.30" y2="387.48" stroke="#151515" stroke-width="1.25"/>
<line x1="54.90" y1="372.86" x2="59.90" y2="372.86" stroke="#151515" stroke-width="1.25"/>
<line x1="288.30" y1="372.86" x2="293.30" y2="372.86" stroke="#151515" stroke-width="1.25"/>
<line x1="54.90" y1="358.24" x2="57.90" y2="358.24" stroke="#151515" stroke-width="1.25"/>
<line x1="290.30" y1="358.24" x2="293.30" y2="358.24" stroke="#151515" stroke-width="1.25"/>
<line x1="54.90" y1="343.62" x2="59.90" y2="343.62" stroke="#151515" stroke-width="1.25"/>
<line x1="288.30" y1="343.62" x2="293.30" y2="343.62" stroke="#151515" stroke-width="1.25"/>
<line x1="54.90" y1="329.00" x2="57.90" y2="329.00" stroke="#151515" stroke-width="1.25"/>
<line x1="290.30" y1="329.00" x2="293.30" y2="329.00" stroke="#151515" stroke-width="1.25"/>
<line x1="293.30" y1="533.19" x2="296.30" y2="533.19" stroke="#151515" stroke-width="1.25"/>
<line x1="528.35" y1="533.19" x2="531.35" y2="533.19" stroke="#151515" stroke-width="1.25"/>
<line x1="293.30" y1="517.98" x2="298.30" y2="517.98" stroke="#151515" stroke-width="1.25"/>
<line x1="526.35" y1="517.98" x2="531.35" y2="517.98" stroke="#151515" stroke-width="1.25"/>
<line x1="293.30" y1="502.77" x2="296.30" y2="502.77" stroke="#151515" stroke-width="1.25"/>
<line x1="528.35" y1="502.77" x2="531.35" y2="502.77" stroke="#151515" stroke-width="1.25"/>
<line x1="293.30" y1="487.56" x2="298.30" y2="487.56" stroke="#151515" stroke-width="1.25"/>
<line x1="526.35" y1="487.56" x2="531.35" y2="487.56" stroke="#151515" stroke-width="1.25"/>
<line x1="293.30" y1="472.35" x2="296.30" y2="472.35" stroke="#151515" stroke-width="1.25"/>
<line x1="528.35" y1="472.35" x2="531.35" y2="472.35" stroke="#151515" stroke-width="1.25"/>
<line x1="293.30" y1="457.14" x2="298.30" y2="457.14" stroke="#151515" stroke-width="1.25"/>
<line x1="526.35" y1="457.14" x2="531.35" y2="457.14" stroke="#151515" stroke-width="1.25"/>
<line x1="293.30" y1="441.93" x2="296.30" y2="441.93" stroke="#151515" stroke-width="1.25"/>
<line x1="528.35" y1="441.93" x2="531.35" y2="441.93" stroke="#151515" stroke-width="1.25"/>
<line x1="293.30" y1="426.72" x2="298.30" y2="426.72" stroke="#151515" stroke-width="1.25"/>
<line x1="526.35" y1="426.72" x2="531.35" y2="426.72" stroke="#151515" stroke-width="1.25"/>
<line x1="293.30" y1="411.51" x2="296.30" y2="411.51" stroke="#151515" stroke-width="1.25"/>
<line x1="528.35" y1="411.51" x2="531.35" y2="411.51" stroke="#151515" stroke-width="1.25"/>
<line x1="293.30" y1="396.30" x2="298.30" y2="396.30" stroke="#151515" stroke-width="1.25"/>
<line x1="526.35" y1="396.30" x2="531.35" y2="396.30" stroke="#151515" stroke-width="1.25"/>
<line x1="293.30" y1="381.09" x2="296.30" y2="381.09" stroke="#151515" stroke-width="1.25"/>
<line x1="528.35" y1="381.09" x2="531.35" y2="381.09" stroke="#151515" stroke-width="1.25"/>
<line x1="293.30" y1="365.88" x2="298.30" y2="365.88" stroke="#151515" stroke-width="1.25"/>
<line x1="526.35" y1="365.88" x2="531.35" y2="365.88" stroke="#151515" stroke-width="1.25"/>
<line x1="293.30" y1="350.67" x2="296.30" y2="350.67" stroke="#151515" stroke-width="1.25"/>
<line x1="528.35" y1="350.67" x2="531.35" y2="350.67" stroke="#151515" stroke-width="1.25"/>
<line x1="293.30" y1="335.46" x2="298.30" y2="335.46" stroke="#151515" stroke-width="1.25"/>
<line x1="526.35" y1="335.46" x2="531.35" y2="335.46" stroke="#151515" stroke-width="1.25"/>
<text transform="translate(51.95,324.70) rotate(0.03)" text-anchor="end" class="tl">0</text>
<text transform="translate(51.95,281.26) rotate(0.03)" text-anchor="end" class="tl">200</text>
<text transform="translate(51.95,237.82) rotate(0.03)" text-anchor="end" class="tl">400</text>
<text transform="translate(51.95,194.38) rotate(0.03)" text-anchor="end" class="tl">600</text>
<text transform="translate(51.95,150.94) rotate(0.03)" text-anchor="end" class="tl">800</text>
<text transform="translate(51.95,107.50) rotate(0.03)" text-anchor="end" class="tl">1000</text>
<text transform="translate(51.95,523.46) rotate(0.03)" text-anchor="end" class="tl">50</text>
<text transform="translate(51.95,494.22) rotate(0.03)" text-anchor="end" class="tl">100</text>
<text transform="translate(51.95,464.98) rotate(0.03)" text-anchor="end" class="tl">150</text>
<text transform="translate(51.95,435.74) rotate(0.03)" text-anchor="end" class="tl">200</text>
<text transform="translate(51.95,406.50) rotate(0.03)" text-anchor="end" class="tl">250</text>
<text transform="translate(51.95,377.26) rotate(0.03)" text-anchor="end" class="tl">300</text>
<text transform="translate(51.95,348.02) rotate(0.03)" text-anchor="end" class="tl">350</text>
<text transform="translate(51.95,553.30) rotate(0.03)" text-anchor="end" class="tl">0</text>
<text transform="translate(539.30,324.70) rotate(0.03)" text-anchor="start" class="tl">0</text>
<text transform="translate(539.30,285.40) rotate(0.03)" text-anchor="start" class="tl">5</text>
<text transform="translate(539.30,246.10) rotate(0.03)" text-anchor="start" class="tl">10</text>
<text transform="translate(539.30,206.80) rotate(0.03)" text-anchor="start" class="tl">15</text>
<text transform="translate(539.30,167.50) rotate(0.03)" text-anchor="start" class="tl">20</text>
<text transform="translate(539.30,128.20) rotate(0.03)" text-anchor="start" class="tl">25</text>
<text transform="translate(539.30,522.38) rotate(0.03)" text-anchor="start" class="tl">200</text>
<text transform="translate(539.30,491.96) rotate(0.03)" text-anchor="start" class="tl">400</text>
<text transform="translate(539.30,461.54) rotate(0.03)" text-anchor="start" class="tl">600</text>
<text transform="translate(539.30,431.12) rotate(0.03)" text-anchor="start" class="tl">800</text>
<text transform="translate(539.30,400.70) rotate(0.03)" text-anchor="start" class="tl">1000</text>
<text transform="translate(539.30,370.28) rotate(0.03)" text-anchor="start" class="tl">1200</text>
<text transform="translate(539.30,339.86) rotate(0.03)" text-anchor="start" class="tl">1400</text>
<text transform="translate(539.30,553.40) rotate(0.03)" text-anchor="start" class="tl">0</text>
<text transform="translate(81.85,83.85) rotate(-89.97) scale(0.9957,1)" class="cl">AE104</text>
<text transform="translate(104.65,80.56) rotate(-89.97) scale(1.0122,1)" class="cl">Δ<tspan class="it">zupT</tspan></text>
<text transform="translate(129.25,82.05) rotate(-89.97) scale(0.9957,1)" class="cl">Δ<tspan class="it">hoxN</tspan></text>
<text transform="translate(151.85,83.39) rotate(-89.97) scale(1.0704,1)" class="cl">Δ5</text>
<text transform="translate(172.65,83.78) rotate(-89.97) scale(1.0592,1)" class="cl">Δ6</text>
<text transform="translate(195.15,83.97) rotate(-89.97) scale(1.0366,1)" class="cl">Δ7</text>
<text transform="translate(240.85,83.33) rotate(-89.97) scale(0.9682,1)" class="cl">Δe4</text>
<text transform="translate(263.85,79.75) rotate(-89.97) scale(1.0052,1)" class="cl">Δe4 Δ<tspan class="it">zupT</tspan></text>
<text transform="translate(319.75,83.85) rotate(-89.97) scale(0.9913,1)" class="cl">AE104</text>
<text transform="translate(342.75,80.56) rotate(-89.97) scale(1.0122,1)" class="cl">Δ<tspan class="it">zupT</tspan></text>
<text transform="translate(364.05,81.25) rotate(-89.97) scale(0.9913,1)" class="cl">Δ<tspan class="it">hoxN</tspan></text>
<text transform="translate(386.55,83.37) rotate(-89.97) scale(1.0366,1)" class="cl">Δ5</text>
<text transform="translate(410.95,83.78) rotate(-89.97) scale(1.0592,1)" class="cl">Δ6</text>
<text transform="translate(433.15,83.77) rotate(-89.97) scale(1.0423,1)" class="cl">Δ7</text>
<text transform="translate(479.05,83.64) rotate(-89.97) scale(0.9794,1)" class="cl">Δe4</text>
<text transform="translate(501.65,79.75) rotate(-89.97) scale(1.0052,1)" class="cl">Δe4 Δ<tspan class="it">zupT</tspan></text>
<text transform="translate(81.85,597.45) rotate(-89.97) scale(0.9870,1)" class="cl">AE104</text>
<text transform="translate(104.95,595.25) rotate(-89.97) scale(0.9989,1)" class="cl">Δ<tspan class="it">zupT</tspan></text>
<text transform="translate(125.85,595.82) rotate(-89.97) scale(0.9478,1)" class="cl">Δ<tspan class="it">hoxN</tspan></text>
<text transform="translate(148.45,571.28) rotate(-89.97) scale(1.0535,1)" class="cl">Δ5</text>
<text transform="translate(173.05,571.28) rotate(-89.97) scale(1.0535,1)" class="cl">Δ6</text>
<text transform="translate(195.55,571.27) rotate(-89.97) scale(1.0310,1)" class="cl">Δ7</text>
<text transform="translate(319.75,597.55) rotate(-89.97) scale(0.9891,1)" class="cl">AE104</text>
<text transform="translate(342.75,595.45) rotate(-89.97) scale(1.0099,1)" class="cl">Δ<tspan class="it">zupT</tspan></text>
<text transform="translate(367.15,595.85) rotate(-89.97) scale(0.9913,1)" class="cl">Δ<tspan class="it">hoxN</tspan></text>
<text transform="translate(389.75,571.28) rotate(-89.97) scale(1.0535,1)" class="cl">Δ5</text>
<text transform="translate(410.95,571.28) rotate(-89.97) scale(1.0535,1)" class="cl">Δ6</text>
<text transform="translate(433.65,571.27) rotate(-89.97) scale(1.0423,1)" class="cl">Δ7</text>
<text transform="translate(478.75,579.34) rotate(-89.97) scale(0.9869,1)" class="cl">Δe4</text>
<text transform="translate(501.65,627.95) rotate(-89.97) scale(1.0078,1)" class="cl">Δe4 Δ<tspan class="it">zupT</tspan></text>
<text transform="translate(217.70,114.40) rotate(0.03) scale(0.9916,1)" class="pl">A. Cu(II)</text>
<text transform="translate(452.09,113.60) rotate(0.03) scale(1.0067,1)" class="pl">B. Au(III)</text>
<text transform="translate(225.99,341.50) rotate(0.03) scale(1.0142,1)" class="pl">C. Ni(II)</text>
<text transform="translate(504.25,344.40) rotate(0.03) scale(1.0305,1)" class="pl">D.</text>
<text transform="translate(497.55,362.50) rotate(0.03) scale(0.9670,1)" class="pl">ED</text>
<text transform="translate(500.91,380.70) rotate(0.03) scale(0.9714,1)" class="pl">TA</text>
<text transform="translate(12.1,440.43) rotate(-89.97) scale(0.9288,1)" class="yt">Minimal</text>
<text transform="translate(12.1,386.99) rotate(-89.97) scale(0.9875,1)" class="yt">Inhibitory</text>
<text transform="translate(12.1,316.37) rotate(-89.97) scale(0.9357,1)" class="yt">Concentration,</text>
<text transform="translate(12.1,218.82) rotate(-89.97) scale(1.0938,1)" class="yt">(<tspan class="it">µ</tspan>M)</text>
</svg>
</body></html>
